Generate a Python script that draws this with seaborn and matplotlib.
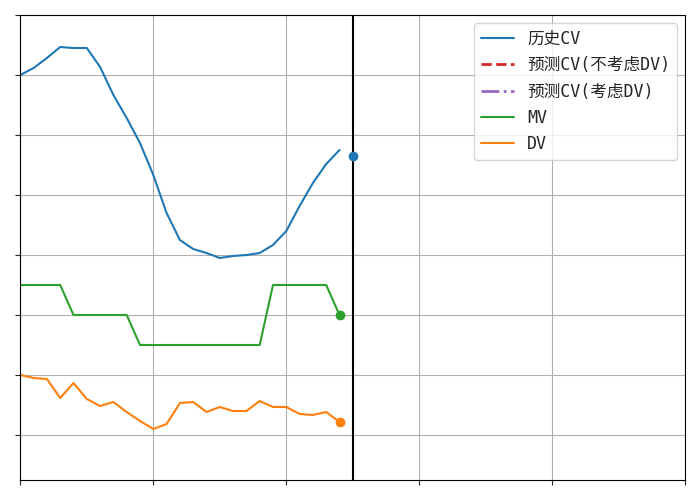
import matplotlib
matplotlib.use("Agg")
import matplotlib.pyplot as plt
import seaborn as sns
import numpy as np

sns.set_style("white")
plt.rcParams['font.family'] = ['DejaVu Sans Mono', 'Noto Sans CJK SC']

cv_px = [75,68,58,47,48,48,67,95,118,143,175,213,240,249,253,258,256,255,253,245,231,206,183,164,150,156]
mv_px = [285,285,285,285,315,315,315,315,315,345,345,345,345,345,345,345,345,345,345,285,285,285,285,285,315]
dv_px = [375,378,379,398,383,399,406,402,412,421,429,424,403,402,412,407,411,411,401,407,407,414,415,412,422]
cv = [(435-p)/60 for p in cv_px]
mv = [(435-p)/60 for p in mv_px]
dv = [(435-p)/60 for p in dv_px]

fig, ax = plt.subplots(figsize=(7,5), dpi=100)
fig.subplots_adjust(left=0.029, right=0.979, top=0.97, bottom=0.04)
sns.lineplot(x=np.arange(len(cv)-1), y=cv[:-1], ax=ax, color='#1f77b4', label='历史CV')
ax.plot([], [], '--', color='#d62728', lw=2, label='预测CV(不考虑DV)')
ax.plot([], [], '-.', color='#9467bd', lw=2, label='预测CV(考虑DV)')
sns.lineplot(x=np.arange(len(mv)), y=mv, ax=ax, color='#2ca02c', label='MV')
sns.lineplot(x=np.arange(len(dv)), y=dv, ax=ax, color='#ff7f0e', label='DV')
ax.scatter([25], [cv[-1]], color='#1f77b4', zorder=5)
ax.scatter([24], [mv[-1]], color='#2ca02c', zorder=5)
ax.scatter([24], [dv[-1]], color='#ff7f0e', zorder=5)
ax.axvline(25, color='black', lw=1.5)
ax.set_xlim(0, 50)
ax.set_ylim(-0.75, 7)
ax.set_xticks(range(0, 51, 10))
ax.set_yticks(range(0, 8))
ax.set_xticklabels([]); ax.set_yticklabels([])
ax.tick_params(length=3.5, left=True, bottom=True)
ax.grid(True, color='#b0b0b0', lw=0.8)
for s in ax.spines.values():
    s.set_color('black')
ax.legend(loc='upper right', fontsize=12)
fig.savefig('out.png')
